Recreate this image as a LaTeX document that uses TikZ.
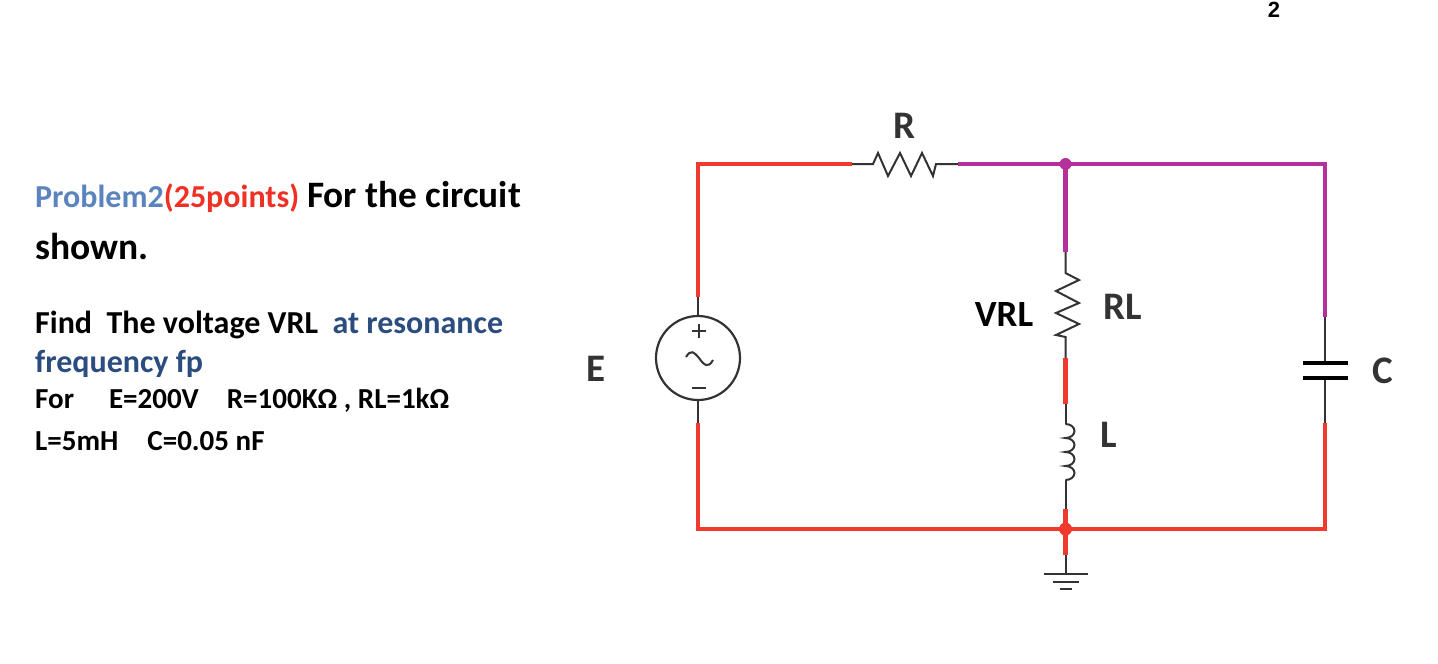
\documentclass[tikz,border=0pt]{standalone}
\usepackage{fontspec}
\setmainfont{Carlito}
\newfontfamily\pagefont{Liberation Sans}
\definecolor{wirered}{HTML}{F03A2E}
\definecolor{wirepurple}{HTML}{B5309A}
\definecolor{probblue}{HTML}{5B84BE}
\definecolor{probred}{HTML}{EE3124}
\definecolor{freqblue}{HTML}{2B4C7E}
\definecolor{leadgray}{HTML}{333333}
\tikzset{
    redwire/.style={wirered, line width=4.8pt},
    purplewire/.style={wirepurple, line width=4.8pt},
    lead/.style={leadgray, line width=2pt},
    plate/.style={black, line width=3.6pt},
    prob/.style={anchor=base west, inner sep=0pt, font=\bfseries\fontsize{#1}{#1}\selectfont},
    lbl/.style={inner sep=0pt, text=leadgray, font=\bfseries\fontsize{39}{39}\selectfont},
}
\begin{document}
\begin{tikzpicture}[x=1pt, y=-1pt]
    \useasboundingbox (0,0) rectangle (1438,664);

    % 問題文
    \node[prob=32] (line1) at (35,207) {\textcolor{probblue}{Problem2}\textcolor{probred}{(25points)}\hspace{8pt}{\fontsize{37.3}{37.3}\selectfont For the circuit}};
    \node[prob=37.5] (line2) at (35,259) {shown.};
    \node[prob=32] (line3) at (35,333) {Find\ \ The voltage VRL\ \ \textcolor{freqblue}{at resonance}};
    \node[prob=32, text=freqblue] (line4) at (35,372) {frequency fp};
    \node[prob=29] (line5) at (35,408) {For\hspace{35pt}E=200V\hspace{28pt}R=100KΩ , RL=1kΩ};
    \node[prob=29] (line6) at (35,450) {L=5mH\hspace{29pt}C=0.05 nF};
    \node[anchor=base, inner sep=0pt, font=\pagefont\bfseries\fontsize{22}{22}\selectfont] (pagenum) at (1274,17) {2};

    % 配線の点
    \coordinate (tl) at (698,164);
    \coordinate (bl) at (698,529);
    \coordinate (tr) at (1325,164);
    \coordinate (br) at (1325,529);
    \coordinate (jt) at (1065.5,164);
    \coordinate (jb) at (1065.5,529);
    \coordinate (srcT) at (698,297);
    \coordinate (srcB) at (698,423);
    \coordinate (rA) at (852,164);
    \coordinate (rB) at (873,164);
    \coordinate (rC) at (936,164);
    \coordinate (rD) at (958,164);
    \coordinate (rlA) at (1065.5,252);
    \coordinate (rlB) at (1065.5,273);
    \coordinate (rlC) at (1065.5,337);
    \coordinate (rlD) at (1065.5,358);
    \coordinate (lA) at (1065.5,404);
    \coordinate (lB) at (1065.5,424);
    \coordinate (lC) at (1065.5,480);
    \coordinate (lD) at (1065.5,509);
    \coordinate (gA) at (1065.5,555);
    \coordinate (gB) at (1065.5,574);
    \coordinate (cA) at (1325,317);
    \coordinate (cB) at (1325,363);
    \coordinate (cC) at (1325,378);
    \coordinate (cD) at (1325,423);

    % 電源
    \node[circle, draw=leadgray, line width=2.2pt, minimum size=84pt, inner sep=0pt] (src) at (698,358) {};
    \draw[lead] (srcT) -- (src.north);
    \draw[lead] (src.south) -- (srcB);
    \draw[lead, line width=2.6pt] (692,331) -- (706,331) (699,324) -- (699,338);
    \draw[lead, line width=2.6pt] (692,388) -- (706,388);
    \draw[lead] (686,357) .. controls (691,349) and (694,352) .. (699,358) .. controls (704,365) and (708,369) .. (713,360);

    % 赤と紫の配線
    \draw[redwire] (srcT) -- (tl) -- (rA);
    \draw[redwire] (srcB) -- (bl) -- (br) -- (cD);
    \draw[redwire] (rlD) -- (lA);
    \draw[redwire] (lD) -- (gA);
    \draw[purplewire] (rD) -- (tr) -- (cA);
    \draw[purplewire] (jt) -- (rlA);
    \fill[wirepurple] (jt) circle (6pt);
    \fill[wirered] (jb) circle (6.5pt);

    % R
    \draw[lead] (rA) -- (rB) -- (878,153) -- (888,176) -- (900,153) -- (911,176) -- (922,153) -- (933,176) -- (rC) -- (rD);

    % RL
    \draw[lead] (rlA) -- (rlB) -- (1079,280) -- (1056,291) -- (1079,303) -- (1056,313) -- (1079,324) -- (1056,335) -- (rlC) -- (rlD);

    % L
    \draw[lead] (lA) -- (lB);
    \draw[lead] (lC) -- (lD);
    \draw[lead] (lB)
        \foreach \i in {1,...,4} { arc (90:-90:9pt and 7pt) };

    % C
    \draw[lead] (cA) -- (cB);
    \draw[lead] (cC) -- (cD);
    \draw[plate] (1303,363) -- (1348,363);
    \draw[plate] (1303,378) -- (1348,378);

    % 接地
    \foreach \y/\w in {574/22, 582/13, 589/6}
        \draw[plate, line width=2.4pt, leadgray] (1065.5-\w,\y) -- (1065.5+\w,\y);
    \draw[lead] (gA) -- (gB);

    % ラベル
    \node[lbl] (labR) at (904,126) {R};
    \node[lbl] (labE) at (596,369) {E};
    \node[lbl, text=black, font=\bfseries\fontsize{37}{37}\selectfont] (labV) at (1004,314) {VRL};
    \node[lbl] (labRL) at (1123,307) {RL};
    \node[lbl] (labL) at (1109,435) {L};
    \node[lbl] (labC) at (1383,371) {C};
\end{tikzpicture}
\end{document}
